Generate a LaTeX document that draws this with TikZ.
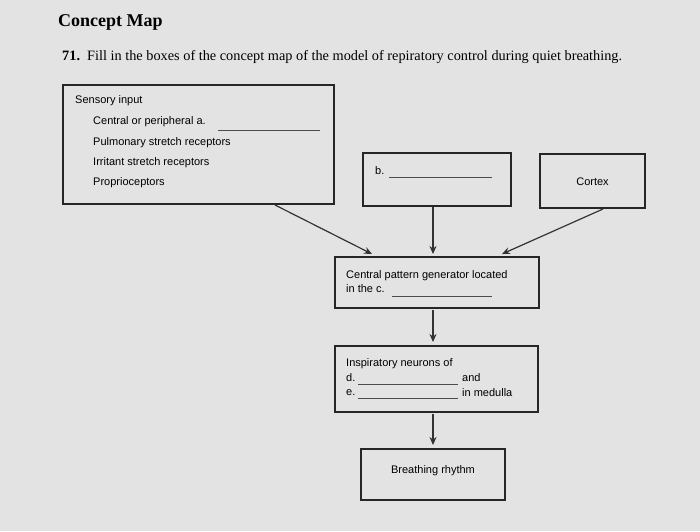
\documentclass[tikz,border=0pt]{standalone}
\usepackage{fontspec}
\setmainfont{Liberation Serif}
\setsansfont{Liberation Sans}
\usetikzlibrary{arrows.meta}
\begin{document}
\begin{tikzpicture}[x=1pt,y=-1pt,
  box/.style={draw=black!85,line width=1.2pt},
  txt/.style={anchor=west,inner sep=0pt,font=\sffamily\fontsize{11}{13}\selectfont},
  blank/.style={draw=black!70,line width=0.5pt},
  arr/.style={draw=black!80,line width=1.2pt,-{Stealth[length=8pt,width=7pt]}}]
\fill[black!11] (0,0) rectangle (700,531);
\useasboundingbox (0,0) rectangle (700,531);
\node[anchor=west,inner sep=0pt,font=\bfseries\fontsize{18}{20}\selectfont] (title) at (58,22) {Concept Map};
\node[anchor=west,inner sep=0pt,font=\fontsize{14.3}{16}\selectfont] (q) at (62,57) {\textbf{71.}\ \ Fill in the boxes of the concept map of the model of repiratory control during quiet breathing.};
% boxes
\draw[box] (63,85) rectangle (334,204);
\coordinate (s) at (275,205);
\node[txt] (t1) at (75,101) {Sensory input};
\node[txt] (t2) at (93,122) {Central or peripheral a.};
\coordinate (b1) at (218,130); \coordinate (b2) at (320,130);
\draw[blank] (b1) -- (b2);
\node[txt] (t3) at (93,143) {Pulmonary stretch receptors};
\node[txt] (t4) at (93,163) {Irritant stretch receptors};
\node[txt] (t5) at (93,183) {Proprioceptors};
\draw[box] (363,153) rectangle (511,206);
\node[txt] (tb) at (375,171) {b.};
\coordinate (c1) at (389,177); \coordinate (c2) at (492,177);
\draw[blank] (c1) -- (c2);
\draw[box] (540,154) rectangle (645,208);
\node[font=\sffamily\fontsize{11}{13}\selectfont] (cortex) at (592.5,182) {Cortex};
\draw[box] (335,257) rectangle (539,308);
\node[txt] (cp1) at (346,276) {Central pattern generator located};
\node[txt] (cp2) at (346,289) {in the c.};
\coordinate (d1) at (392,296); \coordinate (d2) at (492,296);
\draw[blank] (d1) -- (d2);
\draw[box] (335,346) rectangle (538,412);
\node[txt] (i1) at (346,364) {Inspiratory neurons of};
\node[txt] (i2) at (346,378) {d.};
\node[txt] (i3) at (462,378) {and};
\node[txt] (i4) at (346,393) {e.};
\node[txt] (i5) at (462,393) {in medulla};
\draw[blank] (358,384) -- (458,384);
\draw[blank] (358,398) -- (458,398);
\draw[box] (361,449) rectangle (505,500);
\node[font=\sffamily\fontsize{11}{13}\selectfont] (br) at (433,471) {Breathing rhythm};
% arrows
\coordinate (bb) at (433,207); \coordinate (cc) at (603,209);
\coordinate (e1) at (372,254); \coordinate (e2) at (433,254); \coordinate (e3) at (502,254);
\draw[arr] (s) -- (e1);
\draw[arr] (bb) -- (e2);
\draw[arr] (cc) -- (e3);
\coordinate (f1) at (433,310); \coordinate (f2) at (433,342);
\draw[arr] (f1) -- (f2);
\coordinate (g1) at (433,414); \coordinate (g2) at (433,445);
\draw[arr] (g1) -- (g2);
\end{tikzpicture}
\end{document}
